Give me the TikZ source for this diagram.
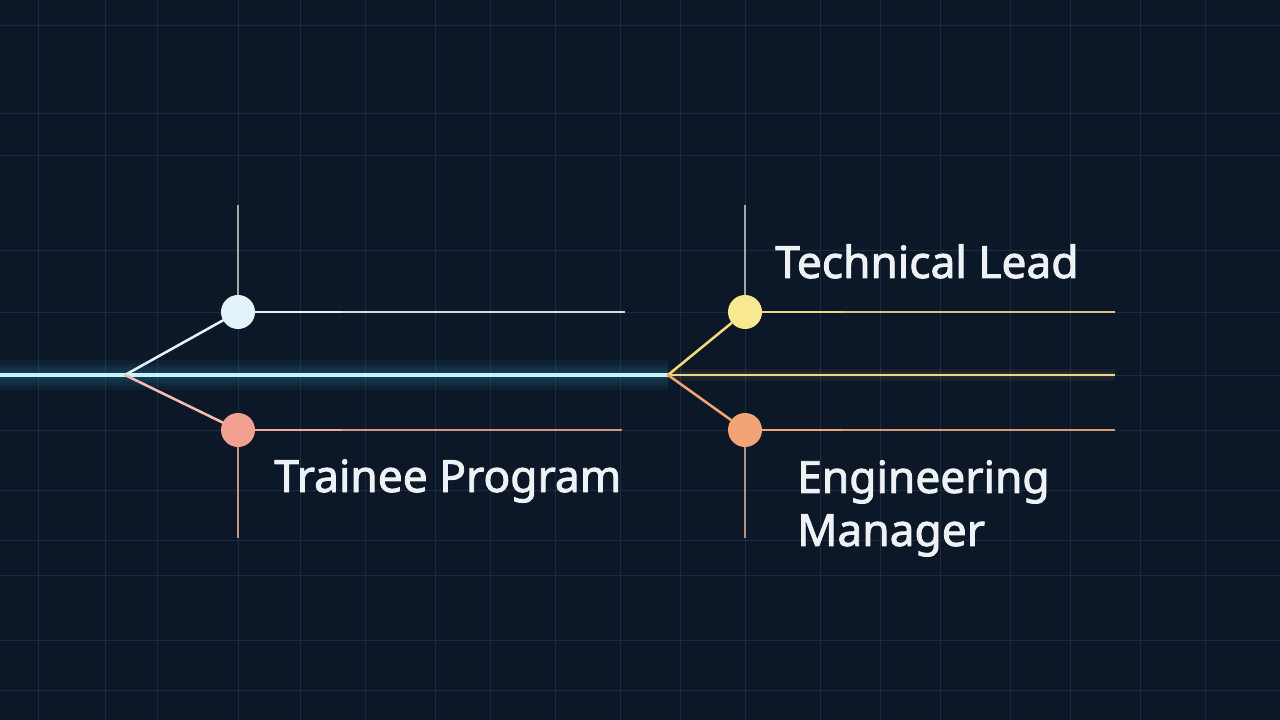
\documentclass[tikz,border=0pt]{standalone}
\usepackage{fontspec}
\setmainfont{Noto Sans}
\newfontfamily\labelfont{Noto Sans}[FakeBold=2]
\definecolor{bgc}{HTML}{0C1828}
\definecolor{gridc}{HTML}{1B2C3E}
\definecolor{cyanglow}{HTML}{2E9CC0}
\definecolor{cyancore}{HTML}{C8F2FB}
\definecolor{goldcore}{HTML}{F2D488}
\definecolor{iceblue}{HTML}{E2F4FA}
\definecolor{salmon}{HTML}{F2A090}
\definecolor{lemon}{HTML}{F8E890}
\definecolor{apricot}{HTML}{F2A474}
\definecolor{labelc}{HTML}{EEF2F5}
\begin{document}
\begin{tikzpicture}[x=0.025cm, y=-0.025cm,
    dot/.style={circle, minimum size=0.85cm, inner sep=0pt},
    stem/.style={line width=0.8pt},
    branch/.style={line width=1.8pt, line cap=round},
    thinrun/.style={line width=0.9pt},
    label/.style={text=labelc, font=\labelfont\fontsize{31.5}{37.7}\selectfont, inner sep=0pt, align=left}]
  \useasboundingbox (0,0) rectangle (1280,720);
  % background and grid
  \fill[bgc] (0,0) rectangle (1280,720);
  \foreach \gx in {38,105,157,238,300,365,435,490,555,620,680,745,820,880,940,1010,1070,1140,1205}
    \draw[gridc, line width=0.6pt] (\gx,0) -- (\gx,720);
  \foreach \gy in {25,113,155,250,312,375,430,490,540,575,640,690}
    \draw[gridc, line width=0.6pt] (0,\gy) -- (1280,\gy);

  % main line with soft glow
  \coordinate (start) at (0,375);
  \coordinate (fork1) at (125,375);
  \coordinate (fork2) at (668,375);
  \coordinate (finish) at (1115,375);
  \foreach \w in {22,16,11,7,4}
    \draw[cyanglow, line width=\w pt, opacity=0.07] (start) -- (fork2);
  \foreach \w in {8,4}
    \draw[goldcore, line width=\w pt, opacity=0.05] (fork2) -- (finish);
  \draw[cyancore, line width=2.2pt] (start) -- (fork2);
  \draw[goldcore, line width=1.8pt] (fork2) -- (finish);

  % first fork
  \node[dot, fill=iceblue] (upA) at (238,312) {};
  \node[dot, fill=salmon] (trainee) at (238,430) {};
  \draw[stem, gray!70] (238,205) -- (upA.north);
  \draw[stem, salmon!60!gray] (trainee.south) -- (238,538);
  \draw[branch, iceblue] (fork1) -- (upA);
  \draw[branch, salmon!70!white] (fork1) -- (trainee);
  \draw[branch, iceblue] (upA.east) -- (342,312) coordinate (upAmid);
  \draw[thinrun, iceblue!80!gray] (upAmid) -- (625,312);
  \draw[branch, salmon!90!white] (trainee.east) -- (342,430) coordinate (traineemid);
  \draw[thinrun, salmon!70!gray] (traineemid) -- (622,430);

  % second fork
  \node[dot, fill=lemon] (techlead) at (745,312) {};
  \node[dot, fill=apricot] (engman) at (745,430) {};
  \draw[stem, gray!70] (745,205) -- (techlead.north);
  \draw[stem, apricot!50!gray] (engman.south) -- (745,538);
  \draw[branch, lemon!85!orange] (fork2) -- (techlead);
  \draw[branch, apricot] (fork2) -- (engman);
  \draw[branch, goldcore] (techlead.east) -- (842,312) coordinate (techmid);
  \draw[thinrun, goldcore!80!gray] (techmid) -- (1115,312);
  \draw[branch, apricot] (engman.east) -- (842,430) coordinate (engmid);
  \draw[thinrun, apricot!75!gray] (engmid) -- (1115,430);

  % labels
  \node[label, anchor=base west] (techlabel) at (775,278) {Technical Lead};
  \node[label, anchor=base west] (trainlabel) at (274,492) {Trainee Program};
  \node[label, anchor=north west] (englabel) at (797,460) {Engineering\\Manager};
\end{tikzpicture}
\end{document}
